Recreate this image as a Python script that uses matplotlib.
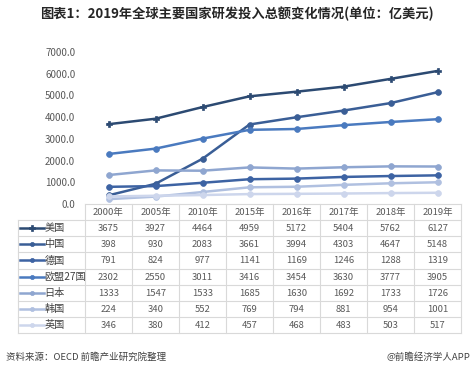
import matplotlib
matplotlib.use("Agg")
import matplotlib.pyplot as plt
from matplotlib.lines import Line2D

plt.rcParams['font.family'] = ['Noto Sans CJK SC', 'DejaVu Sans']

years = ["2000年", "2005年", "2010年", "2015年", "2016年", "2017年", "2018年", "2019年"]
countries = ["美国", "中国", "德国", "欧盟27国", "日本", "韩国", "英国"]
usa = [3675, 3927, 4464, 4959, 5172, 5404, 5762, 6127]
china = [398, 930, 2083, 3661, 3994, 4303, 4647, 5148]
germany = [791, 824, 977, 1141, 1169, 1246, 1288, 1319]
eu27 = [2302, 2550, 3011, 3416, 3454, 3630, 3777, 3905]
japan = [1333, 1547, 1533, 1685, 1630, 1692, 1733, 1726]
korea = [224, 340, 552, 769, 794, 881, 954, 1001]
uk = [346, 380, 412, 457, 468, 483, 503, 517]
series = [usa, china, germany, eu27, japan, korea, uk]
colors = ["#2C4A72", "#3A5E96", "#3D63A3", "#4A7ABF", "#8FA6D0", "#B0C0E0", "#CDD6EC"]
markers = ["P", "o", "o", "o", "o", "o", "o"]
yticks = [0, 1000, 2000, 3000, 4000, 5000, 6000, 7000]

W, H = 474, 375
fig = plt.figure(figsize=(W / 100, H / 100), dpi=100)

def fx(px):
    return px / W

def fy(py):
    return 1 - py / H

# chart axes
x_left, x_right = 85, 461
y_top, y_bot = 52, 204
ax = fig.add_axes([fx(x_left), fy(y_bot), fx(x_right) - fx(x_left), fy(y_top) - fy(y_bot)])
xs = list(range(len(years)))
for vals, c, m in zip(series, colors, markers):
    ax.plot(xs, vals, color=c, lw=1.8, marker=m, ms=4.2 if m == "o" else 5.0,
            markeredgewidth=0.5, zorder=3)
ax.set_xlim(-0.5, 7.5)
ax.set_ylim(0, 7000)
ax.set_yticks(yticks)
ax.set_yticklabels([f"{v:.1f}" for v in yticks], fontsize=7, color="#595959")
ax.tick_params(axis="y", length=0, pad=7)
ax.set_xticks([])
for s in ax.spines.values():
    s.set_visible(False)
ax.patch.set_alpha(0)

# table axes
t_left = 18
col_w = (x_right - x_left) / 8.0
xmin_t = -0.5 - (x_left - t_left) / col_w
tab_top, tab_bot = 204, 333
tax = fig.add_axes([fx(t_left), fy(tab_bot), fx(x_right) - fx(t_left), fy(tab_top) - fy(tab_bot)])
tax.set_xlim(xmin_t, 7.5)
nrows = len(countries) + 1
tax.set_ylim(nrows, 0)
tax.axis("off")
grid_c = "#D9D9D9"
for r in range(nrows + 1):
    x0 = -0.5 if r == 0 else xmin_t
    tax.plot([x0, 7.5], [r, r], color=grid_c, lw=0.8, clip_on=False)
tax.plot([xmin_t, xmin_t], [1, nrows], color=grid_c, lw=0.8, clip_on=False)
for i in range(9):
    xv = -0.5 + i
    tax.plot([xv, xv], [0, nrows], color=grid_c, lw=0.8, clip_on=False)
for i, yl in enumerate(years):
    tax.text(i, 0.55, yl, ha="center", va="center", fontsize=6.8, color="#595959")
for r, (name, vals, c, m) in enumerate(zip(countries, series, colors, markers), start=1):
    yc = r + 0.5
    lx0 = xmin_t + 0.05
    lx1 = xmin_t + 0.55
    tax.add_line(Line2D([lx0, lx1], [yc, yc], color=c, lw=1.8))
    tax.plot([(lx0 + lx1) / 2], [yc], marker=m, color=c, ms=3.0 if m == "o" else 4.0,
             markeredgewidth=0.5)
    tax.text(lx1 + 0.01, yc, name, ha="left", va="center", fontsize=7.3, color="#404040")
    for i, v in enumerate(vals):
        tax.text(i, yc + 0.03, str(v), ha="center", va="center", fontsize=6.8, color="#595959")

fig.text(0.5, fy(14), "图表1：2019年全球主要国家研发投入总额变化情况(单位：亿美元)",
         ha="center", va="center", fontsize=9.5, fontweight="bold", color="#262626")
fig.text(fx(6), fy(357), "资料来源：OECD 前瞻产业研究院整理", ha="left", va="center",
         fontsize=6.8, color="#404040")
fig.text(fx(470), fy(357), "@前瞻经济学人APP", ha="right", va="center",
         fontsize=6.8, color="#404040")

fig.savefig("out.png", dpi=100)
